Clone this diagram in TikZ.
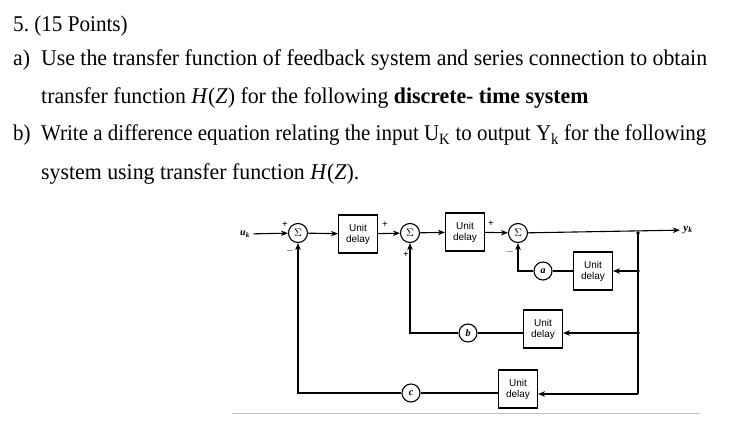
\documentclass[tikz,border=0pt]{standalone}
\usepackage{fontspec}
\setmainfont{Liberation Serif}
\newfontfamily\diag{Liberation Sans}
\usetikzlibrary{arrows.meta}
\begin{document}
\begin{tikzpicture}[x=1pt,y=-1pt,
  txt/.style={anchor=base west,inner sep=0,font=\fontsize{22.5}{22.5}\selectfont},
  dly/.style={draw,line width=1.1pt,minimum width=39pt,minimum height=38pt,align=center,font=\diag\fontsize{10}{11}\selectfont,inner sep=1pt},
  sm/.style={draw,circle,line width=1.1pt,minimum size=19pt,inner sep=0,font=\fontsize{11}{11}\selectfont},
  gn/.style={draw,circle,line width=1.1pt,minimum size=18pt,inner sep=0,font=\itshape\bfseries\fontsize{10}{10}\selectfont},
  ln/.style={line width=1.1pt},
  ar/.style={line width=1.1pt,-{Stealth[length=7pt,width=5.5pt]}},
  lb/.style={font=\bfseries\fontsize{10}{10}\selectfont,inner sep=1pt}]
\useasboundingbox (0,0) rectangle (744,433);
\node[txt,xscale=0.94] (t1) at (13,32) {5.\ (15 Points)};
\node[txt,xscale=0.97] (t2) at (13,66) {a)\ \ Use the transfer function of feedback system and series connection to obtain};
\node[txt,xscale=0.97] (t3) at (41,104) {transfer function \textit{H}(\textit{Z}) for the following \textbf{discrete- time system}};
\node[txt,xscale=0.933] (t4) at (13,141) {b)\ \ Write a difference equation relating the input U\textsubscript{K} to output Y\textsubscript{k} for the following};
\node[txt,xscale=0.97] (t5) at (41,179) {system using transfer function \textit{H}(\textit{Z}).};
% diagram
\node[sm] (s1) at (298,233) {$\Sigma$};
\node[dly] (d1) at (358,234) {Unit\\delay};
\node[sm] (s2) at (410,233) {$\Sigma$};
\node[dly] (d2) at (465,232) {Unit\\delay};
\node[sm] (s3) at (518,233) {$\Sigma$};
\node[dly] (da) at (593,271) {Unit\\delay};
\node[gn] (ga) at (543,271) {a};
\node[dly] (db) at (543,329) {Unit\\delay};
\node[gn] (gb) at (468,333) {b};
\node[dly] (dc) at (518,389) {Unit\\delay};
\node[gn] (gc) at (411,393) {c};
\node[font=\itshape\bfseries\fontsize{10}{10}\selectfont] (uk) at (245,234) {u\textsubscript{k}};
\node[font=\itshape\bfseries\fontsize{11}{11}\selectfont] (yk) at (688,230) {y\textsubscript{k}};
\coordinate (j1) at (638,233);
\coordinate (j2) at (638,271);
\coordinate (j3) at (638,333);
\coordinate (j4) at (638,394);
\draw[ar] (uk) -- (s1);
\draw[ar] (s1) -- (d1);
\draw[ar] (d1) -- (s2);
\draw[ar] (s2) -- (d2);
\draw[ar] (d2) -- (s3);
\draw[ar] (s3) -- (yk);
\draw[ln] (j1) -- (j4);
\draw[ar] (j2) -- (da);
\draw[ar] (j3) -- (db.east|-j3);
\draw[ar] (j4) -- (dc.east|-j4);
\draw[ln] (da) -- (ga);
\draw[ar] (ga) -| (s3);
\draw[ln] (db.west|-gb) -- (gb);
\draw[ar] (gb) -| (s2);
\draw[ln] (dc.west|-gc) -- (gc);
\draw[ar] (gc) -| (s1);
\foreach \p in {j1,j2,j3}{\fill (\p) circle (1.8pt);}
\draw[gray!50,line width=0.6pt] (232,413) -- (700,413);
\node[lb] at (285,225) {+};
\node[lb] at (290,251) {$-$};
\node[lb] at (385,225) {+};
\node[lb] at (406,255) {+};
\node[lb] at (491,224) {+};
\node[lb] at (510,252) {$-$};
\end{tikzpicture}
\end{document}
